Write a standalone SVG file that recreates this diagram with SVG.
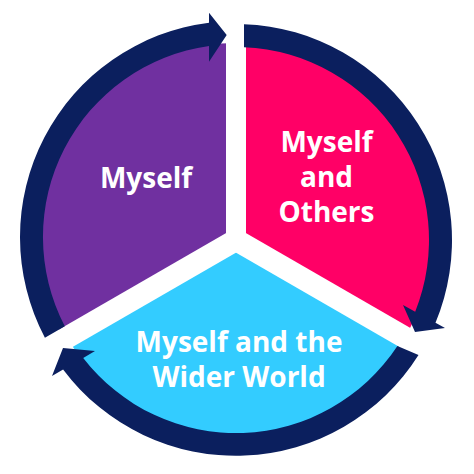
<svg xmlns="http://www.w3.org/2000/svg" width="474" height="474" viewBox="0 0 474 474">
<style>
.lbl{font-family:"Open Sans","Noto Sans","Liberation Sans",sans-serif;font-weight:700;font-size:28px;fill:#FFFFFF;text-anchor:middle}
.arrow{fill:#0B1F5E}
.gap{stroke:#FFFFFF;fill:none}
</style>
<rect width="474" height="474" fill="#FFFFFF"/>
<g id="node-myself">
<path d="M236,240 L65.4,341.5 A197,197 0 0 1 236,43 Z" fill="#7030A0"/>
</g>
<g id="node-myself-and-others">
<path d="M236,240 L236,45 A195,195 0 0 1 404.9,337.5 Z" fill="#FF0066"/>
</g>
<g id="node-wider-world">
<path d="M236,240 L404.9,337.5 A195,195 0 0 1 67.1,337.5 Z" fill="#33CCFF"/>
</g>
<g id="gaps">
<line class="gap" x1="236" y1="246" x2="236" y2="0" stroke-width="20"/>
<line class="gap" x1="236" y1="240" x2="9" y2="371" stroke-width="22"/>
<line class="gap" x1="236" y1="240" x2="463" y2="371" stroke-width="22"/>
</g>
<g id="connectors">
<path class="arrow" d="M44.9,337.7 A216,216 0 0 1 209,22.7 L209,12.7 L226.7,35 L209,61.7 L209,45.9 A193,193 0 0 0 64.8,326.2 Z"/>
<path class="arrow" d="M244,24.15 A216,216 0 0 1 435.5,322.8 L445,328 L415,332 L403,305 L415.2,311.7 A193,193 0 0 0 244,47.2 Z"/>
<path class="arrow" d="M418.5,355 A216,216 0 0 1 63.1,369.5 L52,376 L63,348 L95,351 L83.2,357.9 A193,193 0 0 0 397.4,345.9 Z"/>
</g>
<g id="labels">
<text class="lbl" x="146" y="188">Myself</text>
<text class="lbl" x="326.5" y="152">Myself</text>
<text class="lbl" x="326.5" y="187">and</text>
<text class="lbl" x="326.5" y="222">Others</text>
<text class="lbl" x="239" y="352">Myself and the</text>
<text class="lbl" x="239" y="387">Wider World</text>
</g>
</svg>
